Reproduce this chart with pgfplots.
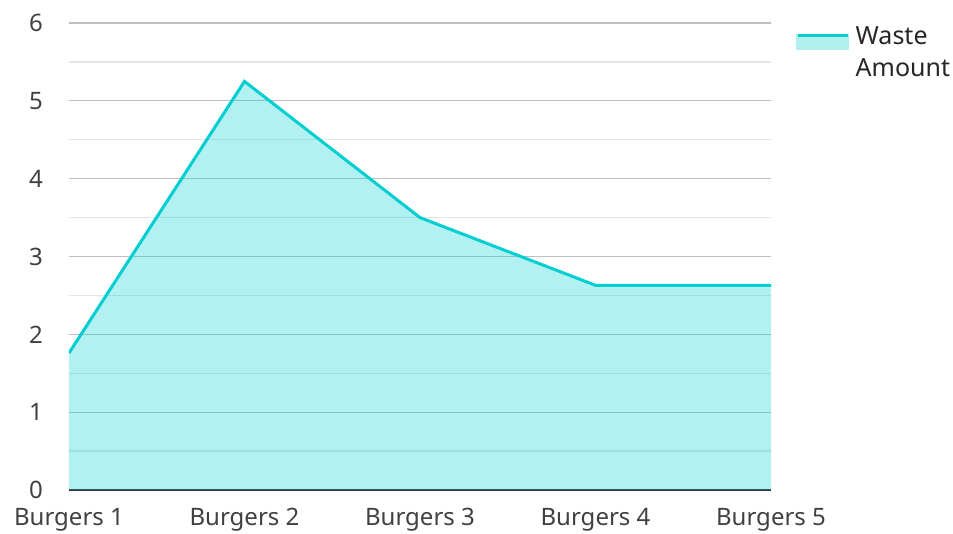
\documentclass[border=0pt]{standalone}
\usepackage{pgfplots}
\pgfplotsset{compat=1.18}
\usepackage{fontspec}
\setmainfont{Noto Sans}
\definecolor{lc}{HTML}{00CED1}
\definecolor{fc}{HTML}{B2F0F0}
\definecolor{tc}{HTML}{404040}
\begin{document}
\begin{tikzpicture}[x=1pt,y=1pt]
\path[use as bounding box] (-69,-43) rectangle (884,490);
\begin{axis}[at={(0,0)}, anchor=south west, scale only axis,
  width=702pt, height=467pt,
  xmin=0, xmax=4, ymin=0, ymax=6,
  xtick={0,1,2,3,4},
  xticklabels={Burgers 1,Burgers 2,Burgers 3,Burgers 4,Burgers 5},
  ytick={0,1,2,3,4,5,6},
  minor ytick={0.5,1.5,2.5,3.5,4.5,5.5},
  ymajorgrids, yminorgrids,
  major grid style={draw=black!25, line width=1.2pt},
  minor grid style={draw=black!10, line width=1.2pt},
  axis x line*=bottom, axis y line*=left,
  x axis line style={draw=black!80, line width=1.5pt, -},
  y axis line style={draw=none},
  major tick length=0pt, minor tick length=0pt,
  tick style={draw=none},
  /pgf/number format/assume math mode=true,
  ticklabel style={font=\fontsize{24}{28}\selectfont, text=tc},
  yticklabel style={anchor=east, inner sep=0pt, xshift=-26pt},
  xticklabel style={anchor=north, inner sep=0pt, yshift=-18pt},
  legend style={at={(rel axis cs:1,1)}, anchor=north west, xshift=25pt, yshift=-1pt,
    draw=none, fill=none, inner sep=0pt, font=\fontsize{25}{32}\selectfont, text=black!85,
    nodes={align=left}},
  legend cell align=left,
]
\addplot[draw=none, fill=lc, fill opacity=0.3, forget plot] coordinates {
  (0,1.76) (1,5.25) (2,3.5) (3,2.63) (4,2.63)
} \closedcycle;
\addplot[lc, line width=3pt, mark=none,
  legend image code/.code={
    \path[draw=none, fill=none] (0pt,0pt) -- (56pt,0pt);
    \fill[fc] (0pt,3pt) rectangle (50pt,16pt);
    \draw[lc, line width=3pt] (0pt,16pt)--(50pt,16pt);}
] coordinates {
  (0,1.76) (1,5.25) (2,3.5) (3,2.63) (4,2.63)
};
\addlegendentry{Waste\\Amount}
\end{axis}
\end{tikzpicture}
\end{document}
